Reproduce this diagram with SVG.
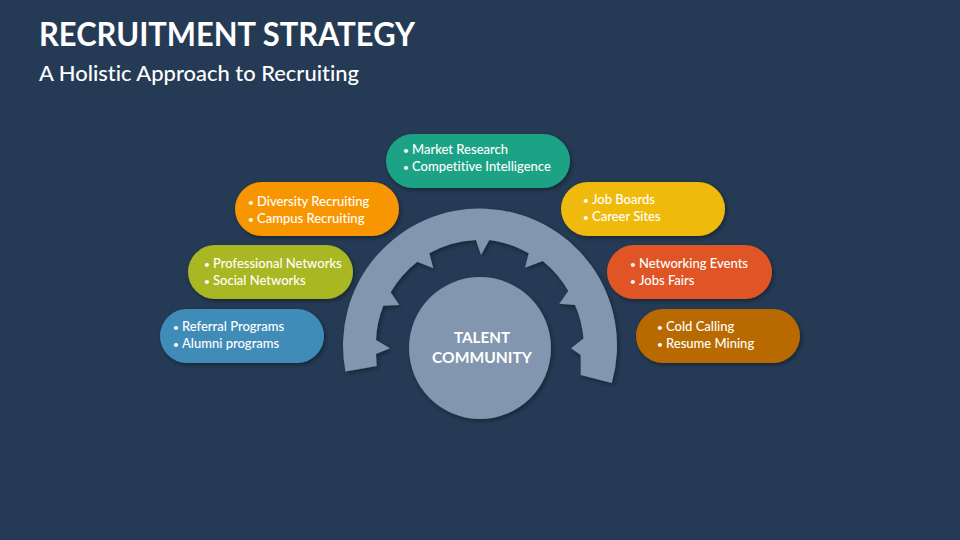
<svg xmlns="http://www.w3.org/2000/svg" width="960" height="540" viewBox="0 0 960 540">
<defs>
<style>
text{font-family:"Lato","Liberation Sans",sans-serif;fill:#fff;font-variant-ligatures:none}
.t{font-size:13px;font-weight:500}
.b{font-size:10px}
.h{font-size:33px;font-weight:700}
.s{font-size:21.5px;font-weight:500}
.c{font-size:16px;font-weight:700;text-anchor:middle}
.p{filter:url(#sh)}
</style>
<filter id="sh" x="-15%" y="-25%" width="130%" height="160%"><feDropShadow dx="1.5" dy="2" stdDeviation="2.5" flood-color="#000" flood-opacity=".4"/></filter>
</defs>
<rect width="960" height="540" fill="#253B55"/>
<text class="h" x="39" y="46" textLength="376" lengthAdjust="spacingAndGlyphs">RECRUITMENT STRATEGY</text>
<text class="s" x="39" y="81" textLength="320" lengthAdjust="spacingAndGlyphs">A Holistic Approach to Recruiting</text>
<g id="gear"><path class="p" fill="#8296B0" d="M345.5 371.5A137 137 0 1 1 611.8 383L580.7 375L580.7 355L571 348.3L583.5 338.5A105 105 0 0 0 575 305L559.3 303.7L568.3 291A105 105 0 0 0 542.7 261L525 267.7L528.7 253.3A105 105 0 0 0 489.3 240L481 255L476 240A105 105 0 0 0 429.3 253.3L433.3 268.3L417.3 261.7A105 105 0 0 0 390.7 292.3L399.3 305L383.3 305.7A105 105 0 0 0 376 340L390 348.3L376 354L376.7 366Z"/></g>
<g id="center"><circle class="p" cx="480" cy="348" r="71" fill="#8296B0"/><text class="c" x="482" y="343" textLength="56" lengthAdjust="spacingAndGlyphs">TALENT</text><text class="c" x="482" y="363" textLength="100" lengthAdjust="spacingAndGlyphs">COMMUNITY</text></g>
<g id="n-teal"><rect class="p" x="386" y="134" width="184" height="54" rx="27" fill="#1FA385"/><text class="t" y="154"><tspan class="b" x="403">•</tspan><tspan x="412">Market Research</tspan></text><text class="t" y="171"><tspan class="b" x="403">•</tspan><tspan x="412">Competitive Intelligence</tspan></text></g>
<g id="n-orange"><rect class="p" x="235" y="182" width="164" height="54" rx="27" fill="#F79600"/><text class="t" y="206"><tspan class="b" x="248">•</tspan><tspan x="257">Diversity Recruiting</tspan></text><text class="t" y="223"><tspan class="b" x="248">•</tspan><tspan x="257">Campus Recruiting</tspan></text></g>
<g id="n-yellow"><rect class="p" x="561" y="182" width="164" height="54" rx="27" fill="#F0BA0C"/><text class="t" y="204"><tspan class="b" x="583">•</tspan><tspan x="592">Job Boards</tspan></text><text class="t" y="221"><tspan class="b" x="583">•</tspan><tspan x="592">Career Sites</tspan></text></g>
<g id="n-green"><rect class="p" x="188" y="245" width="165" height="54" rx="27" fill="#A9B720"/><text class="t" y="268"><tspan class="b" x="204">•</tspan><tspan x="213">Professional Networks</tspan></text><text class="t" y="285"><tspan class="b" x="204">•</tspan><tspan x="213">Social Networks</tspan></text></g>
<g id="n-red"><rect class="p" x="607" y="245" width="165" height="54" rx="27" fill="#E05526"/><text class="t" y="268"><tspan class="b" x="630">•</tspan><tspan x="639">Networking Events</tspan></text><text class="t" y="285"><tspan class="b" x="630">•</tspan><tspan x="639">Jobs Fairs</tspan></text></g>
<g id="n-blue"><rect class="p" x="160" y="309" width="164" height="54" rx="27" fill="#418CB8"/><text class="t" y="331"><tspan class="b" x="173">•</tspan><tspan x="182">Referral Programs</tspan></text><text class="t" y="348"><tspan class="b" x="173">•</tspan><tspan x="182">Alumni programs</tspan></text></g>
<g id="n-brown"><rect class="p" x="636" y="309" width="164" height="54" rx="27" fill="#B86A00"/><text class="t" y="331"><tspan class="b" x="657">•</tspan><tspan x="666">Cold Calling</tspan></text><text class="t" y="348"><tspan class="b" x="657">•</tspan><tspan x="666">Resume Mining</tspan></text></g>
</svg>
